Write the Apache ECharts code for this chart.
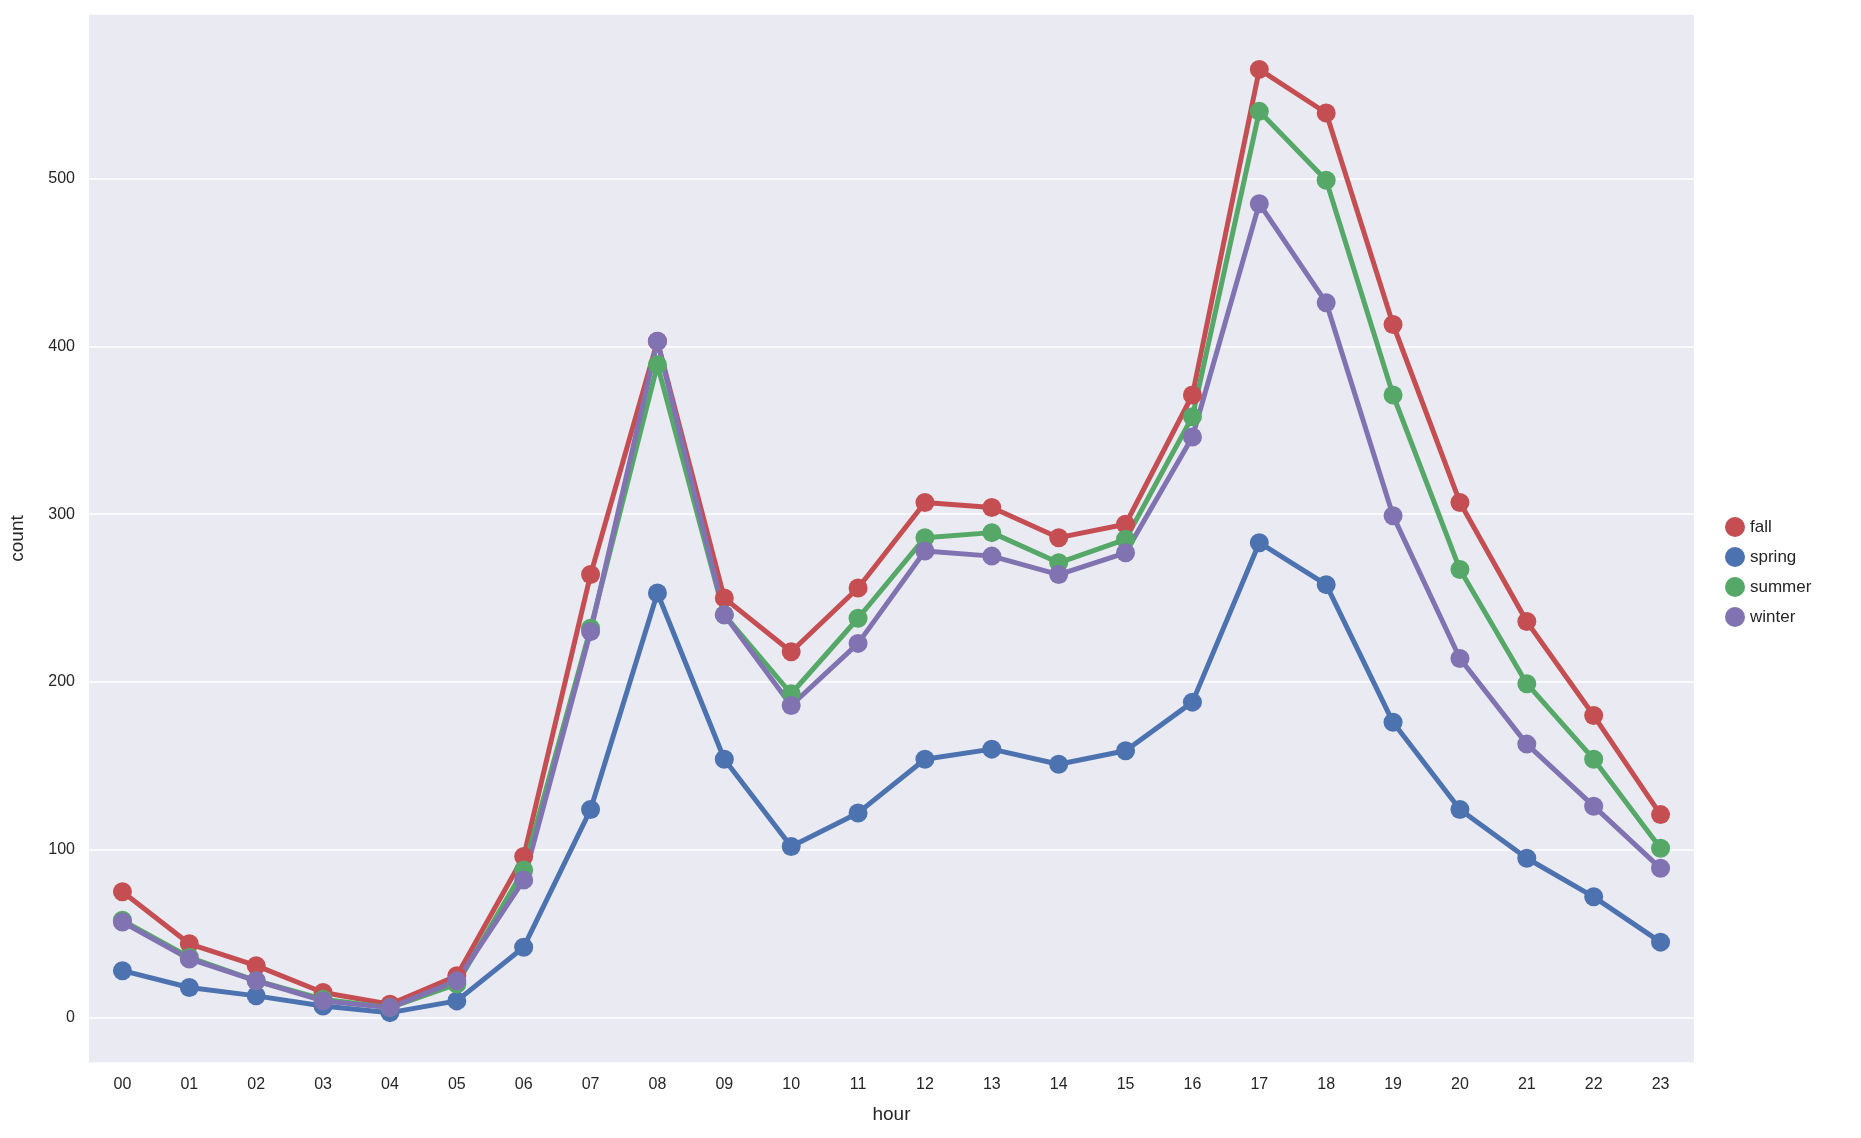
<!DOCTYPE html>
<html>
<head>
<meta charset="utf-8">
<script src="https://cdn.jsdelivr.net/npm/echarts@6/dist/echarts.min.js"></script>
<style>html,body{margin:0;padding:0;background:#fff}#chart{width:1861px;height:1138px}</style>
</head>
<body>
<div id="chart"></div>
<script>
var hours = ['00','01','02','03','04','05','06','07','08','09','10','11','12','13','14','15','16','17','18','19','20','21','22','23'];
var fall = [75,44,31,15,8,25,96,264,403,250,218,256,307,304,286,294,371,565,539,413,307,236,180,121];
var spring = [28,18,13,7,3,10,42,124,253,154,102,122,154,160,151,159,188,283,258,176,124,95,72,45];
var summer = [58,36,22,11,6,20,88,232,389,240,193,238,286,289,271,285,358,540,499,371,267,199,154,101];
var winter = [57,35,22,10,6,22,82,230,403,240,186,223,278,275,264,277,346,485,426,299,214,163,126,89];
var yTicks = [0,100,200,300,400,500];

var chart = echarts.init(document.getElementById('chart'));
var font = 'Liberation Sans, Arial, sans-serif';

function mk(name, data, color) {
  return {
    name: name, type: 'line', data: data,
    symbol: 'circle', symbolSize: 19,
    lineStyle: { width: 5, color: color },
    itemStyle: { color: color },
    emphasis: { disabled: true }
  };
}

chart.setOption({
  animation: false,
  grid: { left: 89, right: 167, top: 14, bottom: 75, backgroundColor: '#EAEAF2', show: true, borderWidth: 0 },
  legend: {
    orient: 'vertical', left: 1720, top: 512,
    icon: 'circle', itemWidth: 20, itemHeight: 20, itemGap: 10,
    textStyle: { fontSize: 17, color: '#262626', fontFamily: font },
    data: ['fall', 'spring', 'summer', 'winter']
  },
  xAxis: {
    type: 'category', data: hours, boundaryGap: true,
    name: 'hour', nameLocation: 'middle', nameGap: 42,
    nameTextStyle: { fontSize: 19, color: '#262626', fontFamily: font },
    axisLine: { show: false }, axisTick: { show: false },
    axisLabel: { fontSize: 16, color: '#262626', fontFamily: font, margin: 14 },
    splitLine: { show: false }
  },
  yAxis: {
    type: 'value', min: -27, max: 598,
    name: 'count', nameLocation: 'middle', nameGap: 62,
    nameTextStyle: { fontSize: 19, color: '#262626', fontFamily: font },
    axisLine: { show: false }, axisTick: { show: false },
    axisLabel: {
      fontSize: 16, color: '#262626', fontFamily: font, margin: 14,
      customValues: yTicks
    },
    splitLine: { show: true, lineStyle: { color: '#fff', width: 1.5 } },
    axisPointer: { show: false }
  },
  series: [
    mk('fall', fall, '#C44E52'),
    mk('spring', spring, '#4C72B0'),
    mk('summer', summer, '#55A868'),
    mk('winter', winter, '#8172B2')
  ]
});
</script>
</body>
</html>
